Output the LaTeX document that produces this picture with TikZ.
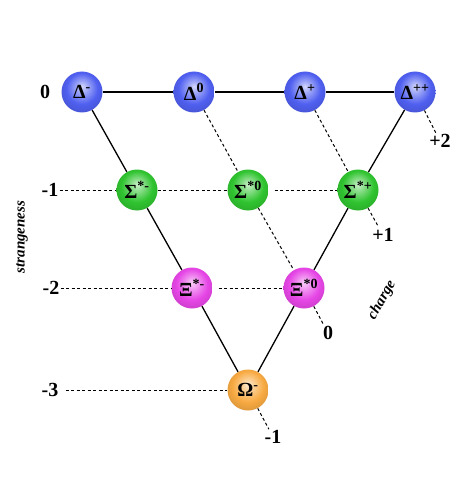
\documentclass[tikz,border=0pt]{standalone}
\usepackage{fontspec}
\setmainfont{Liberation Serif}
\usepackage{tikz}
\definecolor{deltablue}{RGB}{80, 96, 240}
\definecolor{sigmagreen}{RGB}{48, 196, 48}
\definecolor{ximagenta}{RGB}{230, 70, 230}
\definecolor{omegaorange}{RGB}{248, 170, 66}
\pgfdeclareradialshading[orbcolor]{orb}{\pgfpoint{0bp}{7bp}}{%
  color(0bp)=(orbcolor!25!white); color(7bp)=(orbcolor!55!white);
  color(19bp)=(orbcolor); color(32bp)=(orbcolor!85!black);
  color(50bp)=(orbcolor!85!black)}

\begin{document}
\begin{tikzpicture}[
    x=1pt, y=-1pt,
    particle/.style={circle, minimum size=41pt, inner sep=0pt,
                /utils/exec={\colorlet{orbcolor}{#1}}, shading=orb,
                font=\bfseries\fontsize{20}{20}\selectfont},
    num/.style={font=\bfseries\fontsize{20}{20}\selectfont, inner sep=1pt},
    axislbl/.style={font=\bfseries\itshape\fontsize{15}{15}\selectfont},
    edge/.style={line width=1.3pt},
    grid/.style={dash pattern=on 3pt off 2.5pt, line width=1pt},
  ]
  \useasboundingbox (0,0) rectangle (474,497);

  % ── Strangeness 0 ────────────────────────────────
  \node[particle=deltablue] (dm)  at ( 82, 92) {Δ\textsuperscript{-}};
  \node[particle=deltablue] (d0)  at (194, 92) {Δ\textsuperscript{0}};
  \node[particle=deltablue] (dp)  at (305, 92) {Δ\textsuperscript{+}};
  \node[particle=deltablue] (dpp) at (415, 92) {Δ\textsuperscript{++}};

  % ── Strangeness -1 ───────────────────────────────
  \node[particle=sigmagreen] (sm) at (137,190) {Σ\textsuperscript{*-}};
  \node[particle=sigmagreen] (s0) at (248,190) {Σ\textsuperscript{*0}};
  \node[particle=sigmagreen] (sp) at (358,190) {Σ\textsuperscript{*+}};

  % ── Strangeness -2, -3 ───────────────────────────
  \node[particle=ximagenta] (xm) at (192,288) {Ξ\textsuperscript{*-}};
  \node[particle=ximagenta] (x0) at (304,288) {Ξ\textsuperscript{*0}};
  \node[particle=omegaorange] (om) at (248,390) {Ω\textsuperscript{-}};

  % ── Axis numbers ─────────────────────────────────
  \node[num] (sl0) at (45, 92) {0};
  \node[num] (sl1) at (50,190) {-1};
  \node[num] (sl2) at (51,288) {-2};
  \node[num] (sl3) at (50,390) {-3};

  \node[num] (qpp) at (440,141) {+2};
  \node[num] (qp)  at (383,235) {+1};
  \node[num] (q0)  at (328,333) {0};
  \node[num] (qm)  at (273,437) {-1};

  \node[axislbl, rotate=90] (strange) at (22,237) {strangeness};
  \node[axislbl, rotate=60] (chg)     at (382,300) {charge};

  % ── Triangle ─────────────────────────────────────
  \draw[edge] (dm) -- (d0) -- (dp) -- (dpp);
  \draw[edge] (dm) -- (sm) -- (xm) -- (om);
  \draw[edge] (dpp) -- (sp) -- (x0) -- (om);

  % ── Strangeness lines ────────────────────────────
  \draw[grid, shorten <=6pt] (sl1) -- (sm) -- (s0) -- (sp);
  \draw[grid, shorten <=6pt] (sl2) -- (xm) -- (x0);
  \draw[grid, shorten <=6pt] (sl3) -- (om);

  % ── Charge lines ─────────────────────────────────
  \draw[grid] (d0) -- (s0) -- (x0) -- (q0);
  \draw[grid] (dp) -- (sp) -- (qp);
  \draw[grid] (dpp) -- (qpp);
  \draw[grid] (om) -- (qm);
\end{tikzpicture}
\end{document}
